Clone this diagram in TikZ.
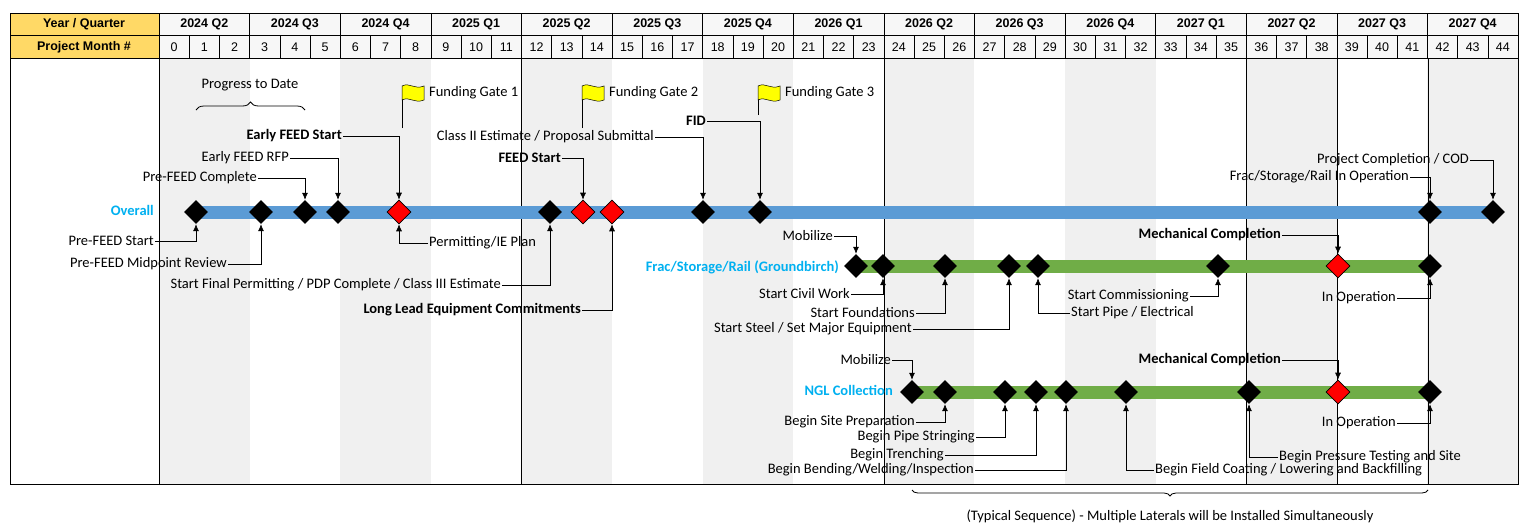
\documentclass[tikz,border=0pt]{standalone}
\usepackage{fontspec}
\setmainfont{Carlito}
\newfontfamily\hdrfont{Liberation Sans}
\usetikzlibrary{shapes.geometric,arrows.meta,decorations.pathreplacing}
\definecolor{hdryellow}{RGB}{255,217,102}
\definecolor{barblue}{RGB}{91,155,213}
\definecolor{bargreen}{RGB}{112,173,71}
\definecolor{rowcyan}{RGB}{0,176,240}
\definecolor{flagyellow}{RGB}{255,255,0}
\tikzset{
  mile/.style={diamond,fill=black,minimum size=24pt,inner sep=0pt},
  milered/.style={mile,fill=red,draw=black,line width=0.6pt},
  lbl/.style={font=\fontsize{14.5}{16}\selectfont,inner sep=1pt},
  blbl/.style={lbl,font=\fontsize{14.5}{16}\selectfont\bfseries},
  rowlbl/.style={font=\fontsize{14.5}{16}\selectfont\bfseries,text=rowcyan,anchor=east,inner sep=1pt},
  call/.style={-{Latex[length=7pt,width=6pt]},line width=0.7pt},
  hdr/.style={font=\hdrfont\fontsize{12.5}{14}\selectfont\bfseries}
}
\begin{document}
\begin{tikzpicture}[x=1pt,y=-1pt]
\useasboundingbox (0,0) rectangle (1536,531);
% shading of alternate quarters
\foreach \q in {0,2,...,14}
  \fill[gray!12] ({159+90.6*\q},58) rectangle ({159+90.6*(\q+1)},484);
% header
\fill[hdryellow] (10,13) rectangle (159,58);
\fill[gray!6] (159,13) rectangle (1518,58);
\node[hdr] (hq) at (84,24) {Year / Quarter};
\node[hdr] (hm) at (84,47) {Project Month \#};
\foreach \t [count=\i from 0] in {2024 Q2,2024 Q3,2024 Q4,2025 Q1,2025 Q2,2025 Q3,2025 Q4,2026 Q1,2026 Q2,2026 Q3,2026 Q4,2027 Q1,2027 Q2,2027 Q3,2027 Q4}{
  \node[hdr] (q\i) at ({159+90.6*(\i+0.5)},24) {\t};
  \draw[line width=0.5pt] ({159+90.6*\i},13) -- ({159+90.6*\i},58);
}
\foreach \m in {0,...,44}{
  \node[font=\hdrfont\fontsize{12.5}{14}\selectfont] (m\m) at ({159+30.2*(\m+0.5)},47) {\m};
  \draw[line width=0.5pt] ({159+30.2*\m},35) -- ({159+30.2*\m},58);
}
\draw[line width=0.5pt] (10,35) -- (1518,35);
\draw[line width=0.8pt] (10,58) -- (1518,58);
\draw[line width=0.8pt] (10,13) rectangle (1518,484);
\draw[line width=0.8pt] (159,13) -- (159,484);
\foreach \x in {521,884,1246,1337,1428}
  \draw[line width=0.6pt] (\x,58) -- (\x,484);
% bars
\fill[barblue] (196,206) rectangle (1493,219);
\fill[bargreen] (856,260) rectangle (1430,273);
\fill[bargreen] (912,386) rectangle (1430,399);
\node[rowlbl] (rOverall) at (155,210) {Overall};
\node[rowlbl] (rFrac) at (840,267) {Frac/Storage/Rail (Groundbirch)};
\node[rowlbl] (rNgl) at (894,390) {NGL Collection};
% overall milestones
\node[mile] (o1) at (196,212) {};
\node[mile] (o2) at (261,212) {};
\node[mile] (o3) at (305,212) {};
\node[mile] (o4) at (338,212) {};
\node[milered] (o5) at (399,212) {};
\node[mile] (o6) at (550,212) {};
\node[milered] (o7) at (583,212) {};
\node[milered] (o8) at (612,212) {};
\node[mile] (o9) at (703,212) {};
\node[mile] (o10) at (760,212) {};
\node[mile] (o11) at (1430,212) {};
\node[mile] (o12) at (1493,212) {};
% frac milestones
\node[mile] (f1) at (856,266) {};
\node[mile] (f2) at (883,266) {};
\node[mile] (f3) at (945,266) {};
\node[mile] (f4) at (1009,266) {};
\node[mile] (f5) at (1038,266) {};
\node[mile] (f6) at (1218,266) {};
\node[milered] (f7) at (1338,266) {};
\node[mile] (f8) at (1430,266) {};
% ngl milestones
\node[mile] (n1) at (912,392) {};
\node[mile] (n2) at (945,392) {};
\node[mile] (n3) at (1005,392) {};
\node[mile] (n4) at (1036,392) {};
\node[mile] (n5) at (1066,392) {};
\node[mile] (n6) at (1126,392) {};
\node[mile] (n7) at (1249,392) {};
\node[milered] (n8) at (1338,392) {};
\node[mile] (n9) at (1430,392) {};
% flags
\foreach \x/\g/\n/\b in {402/1/g1/128,582/2/g2/128,758/3/g3/115}{
  \draw[line width=0.8pt] (\x,\b) -- (\x,86);
  \draw[fill=flagyellow,line width=0.5pt] (\x,86) .. controls (\x+8,82) and (\x+12,90) .. (\x+22,86)
    -- (\x+22,100) .. controls (\x+12,104) and (\x+8,96) .. (\x,100) -- cycle;
  \node[lbl,anchor=west] (\n) at (\x+26,93) {Funding Gate \g};
}
% progress to date
\node[lbl] (ptd) at (250,85) {Progress to Date};
\draw[decorate,decoration={brace,amplitude=8pt},line width=0.8pt] (196,110) -- (305,110);
% labels above overall
\node[lbl,anchor=east] (aPFC) at (258,178) {Pre-FEED Complete};
\node[lbl,anchor=east] (aEFR) at (290,158) {Early FEED RFP};
\node[blbl,anchor=east] (aEFS) at (343,136) {Early FEED Start};
\node[blbl,anchor=east] (aFS) at (562,158) {FEED Start};
\node[lbl,anchor=east] (aC2) at (655,137) {Class II Estimate / Proposal Submittal};
\node[blbl,anchor=east] (aFID) at (707,121) {FID};
\node[lbl,anchor=east] (aPC) at (1470,160) {Project Completion / COD};
\node[lbl,anchor=east] (aFIO) at (1410,177) {Frac/Storage/Rail In Operation};
% labels below overall
\node[lbl,anchor=east] (bPFS) at (155,241) {Pre-FEED Start};
\node[lbl,anchor=east] (bPFM) at (228,264) {Pre-FEED Midpoint Review};
\node[lbl,anchor=west] (bPIE) at (428,243) {Permitting/IE Plan};
\node[lbl,anchor=east] (bSFP) at (502,285) {Start Final Permitting / PDP Complete / Class III Estimate};
\node[blbl,anchor=east] (bLLE) at (582,310) {Long Lead Equipment Commitments};
% frac labels
\node[lbl,anchor=east] (fMob) at (834,236) {Mobilize};
\node[blbl,anchor=east] (fMC) at (1282,235) {Mechanical Completion};
\node[lbl,anchor=east] (fSCW) at (851,294) {Start Civil Work};
\node[lbl,anchor=east] (fSF) at (916,313) {Start Foundations};
\node[lbl,anchor=east] (fSS) at (913,329) {Start Steel / Set Major Equipment};
\node[lbl,anchor=east] (fSCo) at (1190,296) {Start Commissioning};
\node[lbl,anchor=west] (fSPE) at (1070,313) {Start Pipe / Electrical};
\node[lbl,anchor=east] (fIO) at (1397,298) {In Operation};
% ngl labels
\node[lbl,anchor=east] (nMob) at (892,360) {Mobilize};
\node[blbl,anchor=east] (nMC) at (1282,360) {Mechanical Completion};
\node[lbl,anchor=east] (nBSP) at (916,422) {Begin Site Preparation};
\node[lbl,anchor=east] (nBPS) at (976,437) {Begin Pipe Stringing};
\node[lbl,anchor=east] (nBT) at (945,455) {Begin Trenching};
\node[lbl,anchor=east] (nBBW) at (975,470) {Begin Bending/Welding/Inspection};
\node[lbl,anchor=west] (nBFC) at (1154,470) {Begin Field Coating / Lowering and Backfilling};
\node[lbl,anchor=west] (nBPT) at (1278,457) {Begin Pressure Testing and Site};
\node[lbl,anchor=east] (nIO) at (1397,423) {In Operation};
% callouts
\foreach \a/\d in {aPFC/o3,aEFR/o4,aEFS/o5,aFS/o7,aC2/o9,aFID/o10,aPC/o12,aFIO/o11,fMob/f1,fMC/f7,nMob/n1,nMC/n8}
  \draw[call] (\a.east) -| (\d.north);
\foreach \a/\d in {bPFS/o1,bPFM/o2,bSFP/o6,bLLE/o8,fSCW/f2,fSF/f3,fSS/f4,fSCo/f6,fIO/f8,nBSP/n2,nBPS/n3,nBT/n4,nBBW/n5,nIO/n9}
  \draw[call] (\a.east) -| (\d.south);
\foreach \a/\d in {bPIE/o5,fSPE/f5,nBFC/n6,nBPT/n7}
  \draw[call] (\a.west) -| (\d.south);
% typical sequence
\draw[decorate,decoration={brace,amplitude=6pt,mirror},line width=0.8pt] (912,490) -- (1428,490);
\node[lbl] (typ) at (1170,516) {(Typical Sequence) - Multiple Laterals will be Installed Simultaneously};
\end{tikzpicture}
\end{document}
